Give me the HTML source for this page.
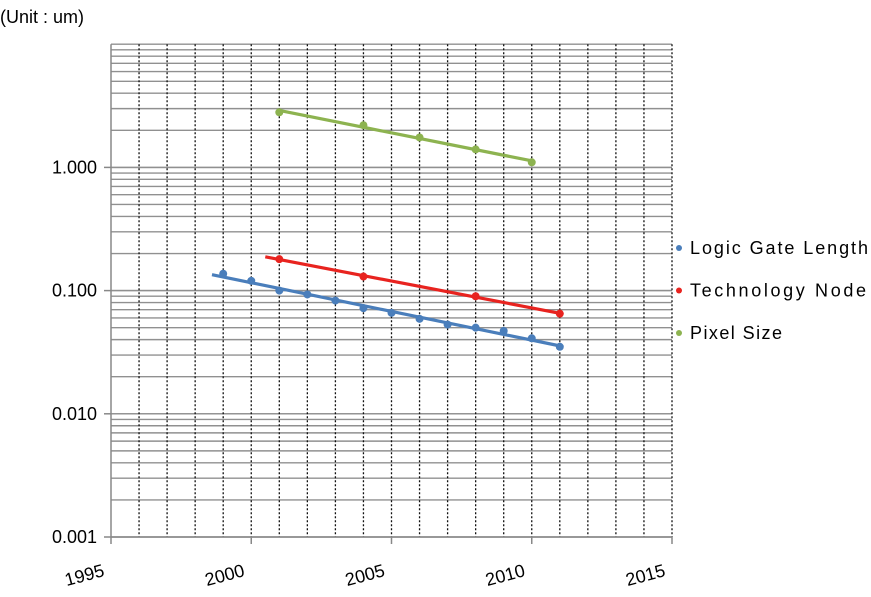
<!DOCTYPE html>
<html><head><meta charset="utf-8"><style>
body{margin:0;background:#fff;width:871px;height:597px;overflow:hidden;font-family:"Liberation Sans",sans-serif}
</style></head><body>
<svg id="c" width="871" height="597" style="position:absolute;left:0;top:0">
<text x="0" y="23" font-size="18" fill="#000">(Unit : um)</text>
</svg>
<script>
const xTicks=[1995,2000,2005,2010,2015];
const yTicks=[0.001,0.01,0.1,1];
const yTickLabels=["0.001","0.010","0.100","1.000"];
const seriesNames=["Logic Gate Length","Technology Node","Pixel Size"];
const seriesColors=["#4a7ebb","#e8231f","#8db350"];
const logicYears=[1999,2000,2001,2002,2003,2004,2005,2006,2007,2008,2009,2010,2011];
const logicVals=[0.137,0.12,0.1,0.093,0.083,0.072,0.066,0.059,0.053,0.05,0.047,0.041,0.035];
const nodeYears=[2001,2004,2008,2011];
const nodeVals=[0.18,0.13,0.09,0.065];
const pixelYears=[2001,2004,2006,2008,2010];
const pixelVals=[2.8,2.2,1.75,1.4,1.1];
const trendStart=[1998.6,2000.5,2001];
const trendEnd=[2011,2011,2010];

const NS="http://www.w3.org/2000/svg";
const svg=document.getElementById('c');
const X0=111,X1=672,Y0=537,DEC=123.2;
const xs=v=>X0+(v-1995)*(X1-X0)/20;
const ys=v=>Y0-(Math.log10(v)+3)*DEC;
function mk(t,a){const e=document.createElementNS(NS,t);for(const k in a)e.setAttribute(k,a[k]);svg.appendChild(e);return e;}
for(let d=-3;d<1;d++){for(let m=1;m<=10;m++){const v=m*Math.pow(10,d);const y=ys(v);
const l=mk('line',{x1:X0,x2:X1,y1:y,y2:y,stroke:'#909090','stroke-width':1.4});

}}
for(let yr=1996;yr<=2015;yr++){const x=xs(yr);
const l=mk('line',{x1:x,x2:x,y1:ys(10),y2:Y0,stroke:'#111','stroke-width':1.3,'stroke-dasharray':'2,2'});

}
let a=mk('line',{x1:X0,x2:X0,y1:ys(10),y2:Y0,stroke:'#888','stroke-width':1.5});

a=mk('line',{x1:X0,x2:X1,y1:Y0,y2:Y0,stroke:'#888','stroke-width':1.5});

yTicks.forEach((v,i)=>{const y=ys(v);
mk('line',{x1:X0-7,x2:X0,y1:y,y2:y,stroke:'#888','stroke-width':1.5});
const t=mk('text',{x:97,y:y+6,'text-anchor':'end','font-size':18,fill:'#000'});t.textContent=yTickLabels[i];

});
xTicks.forEach(v=>{const x=xs(v);
mk('line',{x1:x,x2:x,y1:Y0,y2:Y0+7,stroke:'#888','stroke-width':1.5});
const t=mk('text',{x:0,y:0,'text-anchor':'middle','font-size':18,fill:'#000',transform:`translate(${x-25},${Y0+44}) rotate(-15)`});t.textContent=v;

});
const all=[[logicYears,logicVals],[nodeYears,nodeVals],[pixelYears,pixelVals]];
all.forEach(([xsA,vs],i)=>{
 const n=xsA.length;let sx=0,sy=0,sxx=0,sxy=0;
 xsA.forEach((x,j)=>{const y=Math.log10(vs[j]);sx+=x;sy+=y;sxx+=x*x;sxy+=x*y;});
 const b=(n*sxy-sx*sy)/(n*sxx-sx*sx),c=(sy-b*sx)/n;
 const f=x=>Math.pow(10,c+b*x);
 const l=mk('line',{x1:xs(trendStart[i]),y1:ys(f(trendStart[i])),x2:xs(trendEnd[i]),y2:ys(f(trendEnd[i])),stroke:seriesColors[i],'stroke-width':3.2});
 
 
 xsA.forEach((x,j)=>{const p=mk('circle',{cx:xs(x),cy:ys(vs[j]),r:4,fill:seriesColors[i]});
 
 });
 const ly=248+i*42.5;
 const m=mk('circle',{cx:679,cy:ly,r:3,fill:seriesColors[i]});
 
 
 const t=mk('text',{x:690,y:ly+6,'font-size':18,fill:'#000',textLength:i==0?178:(i==1?176:92)});t.textContent=seriesNames[i];
 
 
});
</script>
</body></html>
